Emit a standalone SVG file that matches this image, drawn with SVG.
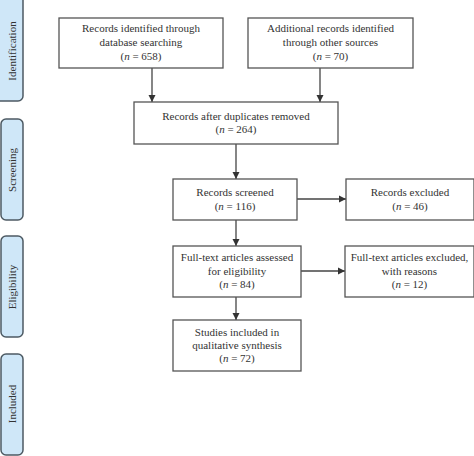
<svg xmlns="http://www.w3.org/2000/svg" width="474" height="456" viewBox="0 0 474 456">
<defs>
<marker id="ah" markerWidth="8" markerHeight="8" refX="7" refY="4" orient="auto" markerUnits="userSpaceOnUse">
<path d="M0,0.5 L7,4 L0,7.5 Z" fill="#333"/>
</marker>
<style>
.box{fill:#fff;stroke:#555;stroke-width:1.3}
.tab{fill:#cfe7f8;stroke:#4d5a63;stroke-width:1.5}
.t{font-family:"Liberation Serif","Times New Roman",serif;font-size:11px;fill:#333;text-anchor:middle}
.tt{font-family:"Liberation Serif","Times New Roman",serif;font-size:11px;fill:#333;text-anchor:middle}
.c{stroke:#444;stroke-width:1.3;fill:none;marker-end:url(#ah)}
i,.i{font-style:italic}
</style>
</defs>
<rect width="474" height="456" fill="#fff"/>
<g id="tab-identification"><rect class="tab" x="-6" y="-8" width="29" height="109" rx="5"/><text class="tt" transform="translate(16,51) rotate(-90)">Identification</text></g>
<g id="tab-screening"><rect class="tab" x="1" y="119" width="22" height="101" rx="5"/><text class="tt" transform="translate(16,170) rotate(-90)">Screening</text></g>
<g id="tab-eligibility"><rect class="tab" x="1" y="236" width="22" height="101" rx="5"/><text class="tt" transform="translate(16,287) rotate(-90)">Eligibility</text></g>
<g id="tab-included"><rect class="tab" x="1" y="354" width="22" height="101" rx="5"/><text class="tt" transform="translate(16,404) rotate(-90)">Included</text></g>

<g id="connectors">
<line class="c" x1="152" y1="68" x2="152" y2="102"/>
<line class="c" x1="320" y1="68" x2="320" y2="102"/>
<line class="c" x1="236" y1="144" x2="236" y2="179"/>
<line class="c" x1="297" y1="199" x2="346" y2="199"/>
<line class="c" x1="236" y1="220" x2="236" y2="246"/>
<line class="c" x1="301" y1="271" x2="345" y2="271"/>
<line class="c" x1="236" y1="297" x2="236" y2="320"/>
</g>

<g id="n1"><rect class="box" x="59" y="18" width="164" height="50"/>
<text class="t" x="141" y="32">Records identified through</text>
<text class="t" x="141" y="46">database searching</text>
<text class="t" x="141" y="60">(<tspan class="i">n</tspan> = 658)</text></g>

<g id="n2"><rect class="box" x="248" y="18" width="165" height="50"/>
<text class="t" x="330.5" y="32">Additional records identified</text>
<text class="t" x="330.5" y="46">through other sources</text>
<text class="t" x="330.5" y="60">(<tspan class="i">n</tspan> = 70)</text></g>

<g id="n3"><rect class="box" x="134" y="102" width="204" height="42"/>
<text class="t" x="236" y="120">Records after duplicates removed</text>
<text class="t" x="236" y="133">(<tspan class="i">n</tspan> = 264)</text></g>

<g id="n4"><rect class="box" x="173" y="179" width="124" height="41"/>
<text class="t" x="235" y="196">Records screened</text>
<text class="t" x="235" y="210">(<tspan class="i">n</tspan> = 116)</text></g>

<g id="n5"><rect class="box" x="346" y="179" width="128" height="41"/>
<text class="t" x="410" y="196">Records excluded</text>
<text class="t" x="410" y="210">(<tspan class="i">n</tspan> = 46)</text></g>

<g id="n6"><rect class="box" x="173" y="246" width="128" height="51"/>
<text class="t" x="237" y="261">Full-text articles assessed</text>
<text class="t" x="237" y="275">for eligibility</text>
<text class="t" x="237" y="288">(<tspan class="i">n</tspan> = 84)</text></g>

<g id="n7"><rect class="box" x="345" y="246" width="129" height="51"/>
<text class="t" x="409.5" y="261">Full-text articles excluded,</text>
<text class="t" x="409.5" y="275">with reasons</text>
<text class="t" x="409.5" y="288">(<tspan class="i">n</tspan> = 12)</text></g>

<g id="n8"><rect class="box" x="173" y="320" width="128" height="51"/>
<text class="t" x="237" y="336">Studies included in</text>
<text class="t" x="237" y="349">qualitative synthesis</text>
<text class="t" x="237" y="362">(<tspan class="i">n</tspan> = 72)</text></g>
</svg>
